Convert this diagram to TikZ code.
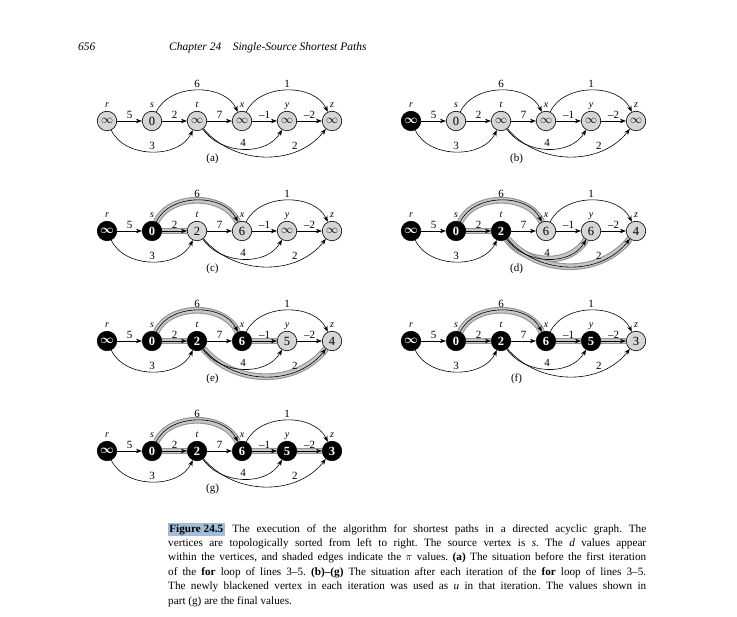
\documentclass[tikz,border=0pt]{standalone}
\usepackage{fontspec}
\setmainfont{Liberation Serif}
\usetikzlibrary{arrows.meta, positioning, backgrounds}
\definecolor{figblue}{RGB}{160,190,218}
\setlength{\fboxsep}{1.2pt}

\newcommand{\dagpanel}[4]{%
  \begin{scope}[shift={#1}]
    \foreach \vn/\vv/\vs [count=\i from 0] in {#3}
      \node[\vs] (#2\vn) at (45*\i,0) {\vv};
    \foreach \vn in {r,s,t,x,y,z}
      \node[vname, above=2pt of #2\vn] (#2\vn-lbl) {\vn};
    \foreach \ea/\eb/\ew/\ep in {r/s/5/0.5, s/t/2/0.5, t/x/7/0.5, x/y/\textendash1/0.5, y/z/\textendash2/0.5,
        s/x/6/0.5, x/z/1/0.5, r/t/3/0.5, t/y/4/0.5, t/z/2/0.72}
      \draw[arrow] (#2\ea) to[e\ea\eb] node[weight, pos=\ep] (#2-\ea\eb) {\ew} (#2\eb);
    \begin{scope}[on background layer]
      \foreach \ea/\eb in {#4}
        \draw[shaded] (#2\ea) to[e\ea\eb] (#2\eb);
    \end{scope}
    \node[panel] (#2-tag) at (105.5,-38) {(#2)};
  \end{scope}}

\begin{document}
\begin{tikzpicture}[
  x=1pt, y=1pt,
  vtx/.style={draw, circle, line width=0.6pt, minimum size=19.5pt, inner sep=0pt, font=\fontsize{12.5}{12.5}\selectfont},
  gry/.style={vtx, fill=black!16},
  blk/.style={vtx, fill=black, text=white, font=\fontsize{12.5}{12.5}\selectfont\bfseries\boldmath},
  vname/.style={inner sep=1pt, text height=5pt, text depth=0pt, font=\fontsize{10}{10}\selectfont\itshape},
  weight/.style={above, inner sep=2.2pt, font=\fontsize{11}{11}\selectfont},
  panel/.style={inner sep=1pt, font=\fontsize{11}{11}\selectfont},
  arrow/.style={-{Stealth[length=6pt, width=4.5pt]}, line width=0.6pt},
  shaded/.style={draw=black!42, double=black!22, double distance=4.5pt, line width=1.1pt},
  header/.style={anchor=base west, inner sep=0pt, font=\fontsize{11.5}{12}\selectfont\itshape},
  caption/.style={anchor=north west, inner sep=0pt, text width=478pt, align=justify, font=\fontsize{11.2}{14.4}\selectfont\frenchspacing},
  ers/.style={}, est/.style={}, etx/.style={}, exy/.style={}, eyz/.style={},
  esx/.style={out=65, in=115}, exz/.style={out=65, in=115},
  ert/.style={out=-65, in=-115}, ety/.style={out=-55, in=-120}, etz/.style={out=-50, in=-128}
]
\path[use as bounding box] (0,0) rectangle (737,-617);

\node[header] (pagenum) at (78,-51) {656};
\node[header] (runhead) at (169,-51) {Chapter 24\quad Single-Source Shortest Paths};

\dagpanel{(107,-121)}{a}{r/$\infty$/gry, s/0/gry, t/$\infty$/gry, x/$\infty$/gry, y/$\infty$/gry, z/$\infty$/gry}{}
\dagpanel{(411,-121)}{b}{r/$\infty$/blk, s/0/gry, t/$\infty$/gry, x/$\infty$/gry, y/$\infty$/gry, z/$\infty$/gry}{}
\dagpanel{(107,-231)}{c}{r/$\infty$/blk, s/0/blk, t/2/gry, x/6/gry, y/$\infty$/gry, z/$\infty$/gry}{s/t, s/x}
\dagpanel{(411,-231)}{d}{r/$\infty$/blk, s/0/blk, t/2/blk, x/6/gry, y/6/gry, z/4/gry}{s/t, s/x, t/y, t/z}
\dagpanel{(107,-341)}{e}{r/$\infty$/blk, s/0/blk, t/2/blk, x/6/blk, y/5/gry, z/4/gry}{s/t, s/x, x/y, t/z}
\dagpanel{(411,-341)}{f}{r/$\infty$/blk, s/0/blk, t/2/blk, x/6/blk, y/5/blk, z/3/gry}{s/t, s/x, x/y, y/z}
\dagpanel{(107,-451)}{g}{r/$\infty$/blk, s/0/blk, t/2/blk, x/6/blk, y/5/blk, z/3/blk}{s/t, s/x, x/y, y/z}

\node[caption] (figcap) at (168,-523) {\noindent\colorbox{figblue}{\textbf{Figure 24.5}}\hspace{0.7em}The execution of the algorithm for shortest paths in a directed acyclic graph. The\linebreak
vertices are topologically sorted from left to right. The source vertex is \textit{s}. The \textit{d} values appear\linebreak
within the vertices, and shaded edges indicate the $\pi$ values. \textbf{(a)} The situation before the first iteration\linebreak
of the \textbf{for} loop of lines 3--5. \textbf{(b)--(g)} The situation after each iteration of the \textbf{for} loop of lines 3--5.\linebreak
The newly blackened vertex in each iteration was used as \textit{u} in that iteration. The values shown in\linebreak
part (g) are the final values.};
\end{tikzpicture}
\end{document}
